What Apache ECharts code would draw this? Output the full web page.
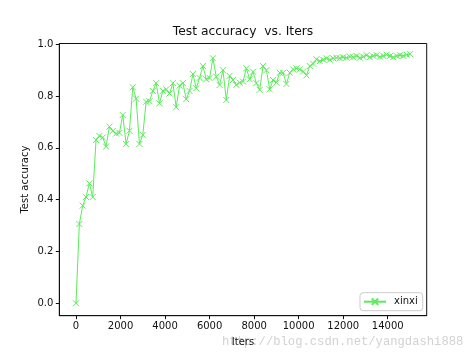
<!DOCTYPE html>
<html>
<head>
<meta charset="utf-8">
<script src="https://cdn.jsdelivr.net/npm/echarts@6/dist/echarts.min.js"></script>
<style>html,body{margin:0;padding:0;background:#fff;}#c{width:474px;height:355px;}</style>
</head>
<body>
<div id="c"></div>
<script>
const iters = [0,150,300,450,600,750,900,1050,1200,1350,1500,1650,1800,1950,2100,2250,2400,2550,2700,2850,
3000,3150,3300,3450,3600,3750,3900,4050,4200,4350,4500,4650,4800,4950,5100,5250,5400,5550,5700,5850,
6000,6150,6300,6450,6600,6750,6900,7050,7200,7350,7500,7650,7800,7950,8100,8250,8400,8550,8700,8850,
9000,9150,9300,9450,9600,9750,9900,10050,10200,10350,10500,10650,10800,10950,11100,11250,11400,11550,11700,11850,
12000,12150,12300,12450,12600,12750,12900,13050,13200,13350,13500,13650,13800,13950,14100,14250,14400,14550,14700,14850,15000];
const accuracy = [0.00,0.306,0.377,0.41,0.463,0.41,0.63,0.646,0.64,0.605,0.682,0.665,0.655,0.658,0.727,0.615,0.666,0.834,0.79,0.615,
0.65,0.778,0.78,0.82,0.85,0.772,0.82,0.826,0.81,0.85,0.757,0.84,0.85,0.788,0.82,0.885,0.83,0.87,0.916,0.865,
0.87,0.946,0.875,0.843,0.90,0.785,0.878,0.862,0.843,0.852,0.856,0.907,0.865,0.894,0.85,0.824,0.916,0.90,0.826,0.862,
0.852,0.89,0.89,0.847,0.89,0.903,0.907,0.903,0.895,0.88,0.916,0.925,0.942,0.935,0.94,0.946,0.94,0.946,0.948,0.946,
0.95,0.948,0.952,0.95,0.955,0.948,0.952,0.958,0.95,0.955,0.958,0.952,0.955,0.96,0.955,0.95,0.955,0.958,0.955,0.96,0.962];
const xTicks = [0,2000,4000,6000,8000,10000,12000,14000];
const yTicks = [0,0.2,0.4,0.6,0.8,1.0];
const seriesName = 'xinxi';

const green = '#5ceb5c';
const font = 'DejaVu Sans';
const chart = echarts.init(document.getElementById('c'), null, {renderer:'canvas'});
chart.setOption({
  animation:false,
  backgroundColor:'#fff',
  grid:{left:59.3,right:47.3,top:43.5,bottom:39.3,show:true,borderColor:'#111',borderWidth:1,backgroundColor:'transparent'},
  graphic:[
    {type:'text',x:243,y:31.7,style:{text:'Test accuracy  vs. Iters',fill:'#111',font:'12.3px "DejaVu Sans"',textAlign:'center',textVerticalAlign:'middle'}},
    {type:'text',x:222,y:341.7,z:-1,style:{text:'http://blog.csdn.net/yangdashi888',fill:'#d2d2d2',font:'12.2px "Liberation Mono"',textAlign:'left',textVerticalAlign:'middle'}}
  ],
  xAxis:{type:'value',min:-750,max:15750,
    name:'Iters',nameLocation:'middle',nameGap:22,nameMoveOverlap:false,nameTextStyle:{fontFamily:font,fontSize:10,color:'#111'},
    axisLine:{show:true,onZero:false,lineStyle:{color:'#111',width:1}},
    axisTick:{show:true,length:3.5,customValues:xTicks,lineStyle:{color:'#111'}},
    axisLabel:{customValues:xTicks,margin:6,fontFamily:font,fontSize:10,color:'#111',formatter:v=>String(v)},
    splitLine:{show:false}},
  yAxis:{type:'value',min:-0.048,max:1.003,
    name:'Test accuracy',nameLocation:'middle',nameGap:29,nameMoveOverlap:false,nameTextStyle:{fontFamily:font,fontSize:10,color:'#111'},
    axisLine:{show:true,onZero:false,lineStyle:{color:'#111',width:1}},
    axisTick:{show:true,length:3.5,customValues:yTicks,lineStyle:{color:'#111'}},
    axisLabel:{customValues:yTicks,margin:6,fontFamily:font,fontSize:10,color:'#111',formatter:v=>v.toFixed(1)},
    splitLine:{show:false}},
  legend:{show:true,left:360,top:292.7,orient:'horizontal',
    padding:[4,5,4,3],itemWidth:22,itemHeight:8,
    backgroundColor:'rgba(255,255,255,0.8)',borderColor:'#ccc',borderWidth:1,borderRadius:3,
    textStyle:{fontFamily:font,fontSize:10,color:'#111',padding:[0,0,0,3]},
    data:[seriesName]},
  series:[{
    name:seriesName,type:'line',
    data:iters.map((x,i)=>[x,accuracy[i]]),
    color:green,
    symbol:'path://M0,0L10,10M0,10L10,0',symbolSize:6,showSymbol:true,showAllSymbol:true,
    itemStyle:{color:green,borderColor:green,borderWidth:1},
    lineStyle:{color:green,width:1},
    emphasis:{disabled:true}
  }]
});
</script>
</body>
</html>
